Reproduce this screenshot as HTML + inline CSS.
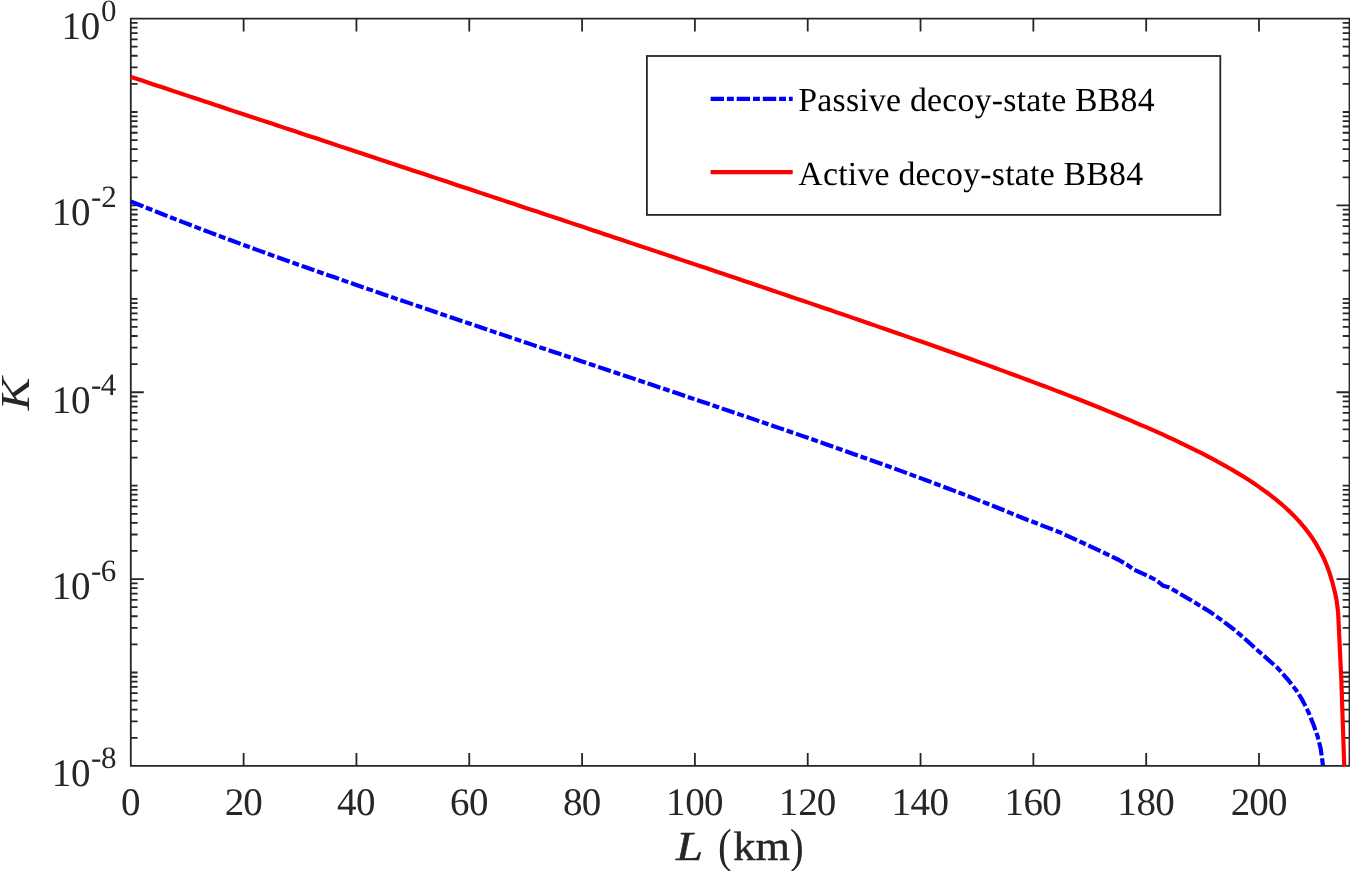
<!DOCTYPE html>
<html lang="en"><head><meta charset="utf-8"><title>Key rate versus distance</title>
<style>
html,body{margin:0;padding:0;background:#fff;}
body{width:1350px;height:871px;overflow:hidden;}
svg{display:block;}
text{font-family:"Liberation Serif","Times New Roman",Times,serif;text-rendering:geometricPrecision;}
.tk{font-size:39.0px;fill:#262626;}
.ex{font-size:31.0px;fill:#262626;}
.lg{font-size:33.75px;fill:#000;}
.lb{font-size:41.25px;fill:#262626;}
.bd{stroke:#262626;stroke-width:0.45px;stroke-linejoin:round;}
</style></head><body>
<svg width="1350" height="871" viewBox="0 0 1350 871">
<rect x="0" y="0" width="1350" height="871" fill="#fff"/>
<defs><clipPath id="cp"><rect x="130.10000000000002" y="17.8" width="1220.2" height="748.4"/></clipPath></defs>
<path d="M243.62 765.9v-13.0M243.62 18.6v13.0M356.44 765.9v-13.0M356.44 18.6v13.0M469.26 765.9v-13.0M469.26 18.6v13.0M582.08 765.9v-13.0M582.08 18.6v13.0M694.90 765.9v-13.0M694.90 18.6v13.0M807.72 765.9v-13.0M807.72 18.6v13.0M920.54 765.9v-13.0M920.54 18.6v13.0M1033.36 765.9v-13.0M1033.36 18.6v13.0M1146.18 765.9v-13.0M1146.18 18.6v13.0M1259.00 765.9v-13.0M1259.00 18.6v13.0M130.8 83.89h6.8M1349.5 83.89h-6.8M130.8 67.44h6.8M1349.5 67.44h-6.8M130.8 55.77h6.8M1349.5 55.77h-6.8M130.8 46.72h6.8M1349.5 46.72h-6.8M130.8 39.32h6.8M1349.5 39.32h-6.8M130.8 33.07h6.8M1349.5 33.07h-6.8M130.8 27.65h6.8M1349.5 27.65h-6.8M130.8 22.87h6.8M1349.5 22.87h-6.8M130.8 112.01h6.8M1349.5 112.01h-6.8M130.8 177.31h6.8M1349.5 177.31h-6.8M130.8 160.86h6.8M1349.5 160.86h-6.8M130.8 149.19h6.8M1349.5 149.19h-6.8M130.8 140.13h6.8M1349.5 140.13h-6.8M130.8 132.74h6.8M1349.5 132.74h-6.8M130.8 126.48h6.8M1349.5 126.48h-6.8M130.8 121.07h6.8M1349.5 121.07h-6.8M130.8 116.29h6.8M1349.5 116.29h-6.8M130.8 205.42h13.0M1349.5 205.42h-13.0M130.8 270.72h6.8M1349.5 270.72h-6.8M130.8 254.27h6.8M1349.5 254.27h-6.8M130.8 242.60h6.8M1349.5 242.60h-6.8M130.8 233.54h6.8M1349.5 233.54h-6.8M130.8 226.15h6.8M1349.5 226.15h-6.8M130.8 219.89h6.8M1349.5 219.89h-6.8M130.8 214.48h6.8M1349.5 214.48h-6.8M130.8 209.70h6.8M1349.5 209.70h-6.8M130.8 298.84h6.8M1349.5 298.84h-6.8M130.8 364.13h6.8M1349.5 364.13h-6.8M130.8 347.68h6.8M1349.5 347.68h-6.8M130.8 336.01h6.8M1349.5 336.01h-6.8M130.8 326.96h6.8M1349.5 326.96h-6.8M130.8 319.56h6.8M1349.5 319.56h-6.8M130.8 313.31h6.8M1349.5 313.31h-6.8M130.8 307.89h6.8M1349.5 307.89h-6.8M130.8 303.11h6.8M1349.5 303.11h-6.8M130.8 392.25h13.0M1349.5 392.25h-13.0M130.8 457.54h6.8M1349.5 457.54h-6.8M130.8 441.09h6.8M1349.5 441.09h-6.8M130.8 429.42h6.8M1349.5 429.42h-6.8M130.8 420.37h6.8M1349.5 420.37h-6.8M130.8 412.97h6.8M1349.5 412.97h-6.8M130.8 406.72h6.8M1349.5 406.72h-6.8M130.8 401.30h6.8M1349.5 401.30h-6.8M130.8 396.52h6.8M1349.5 396.52h-6.8M130.8 485.66h6.8M1349.5 485.66h-6.8M130.8 550.96h6.8M1349.5 550.96h-6.8M130.8 534.51h6.8M1349.5 534.51h-6.8M130.8 522.84h6.8M1349.5 522.84h-6.8M130.8 513.78h6.8M1349.5 513.78h-6.8M130.8 506.39h6.8M1349.5 506.39h-6.8M130.8 500.13h6.8M1349.5 500.13h-6.8M130.8 494.72h6.8M1349.5 494.72h-6.8M130.8 489.94h6.8M1349.5 489.94h-6.8M130.8 579.07h13.0M1349.5 579.07h-13.0M130.8 644.37h6.8M1349.5 644.37h-6.8M130.8 627.92h6.8M1349.5 627.92h-6.8M130.8 616.25h6.8M1349.5 616.25h-6.8M130.8 607.19h6.8M1349.5 607.19h-6.8M130.8 599.80h6.8M1349.5 599.80h-6.8M130.8 593.54h6.8M1349.5 593.54h-6.8M130.8 588.13h6.8M1349.5 588.13h-6.8M130.8 583.35h6.8M1349.5 583.35h-6.8M130.8 672.49h6.8M1349.5 672.49h-6.8M130.8 737.78h6.8M1349.5 737.78h-6.8M130.8 721.33h6.8M1349.5 721.33h-6.8M130.8 709.66h6.8M1349.5 709.66h-6.8M130.8 700.61h6.8M1349.5 700.61h-6.8M130.8 693.21h6.8M1349.5 693.21h-6.8M130.8 686.96h6.8M1349.5 686.96h-6.8M130.8 681.54h6.8M1349.5 681.54h-6.8M130.8 676.76h6.8M1349.5 676.76h-6.8" stroke="#262626" stroke-width="1.8" fill="none"/>
<path d="M130.8 18.6H1349.5V765.9H130.8Z" stroke="#262626" stroke-width="1.8" fill="none" stroke-linejoin="miter"/>
<g clip-path="url(#cp)" fill="none" stroke-linejoin="round">
<polyline points="130.8,201.3 136.4,203.7 142.1,206.0 147.7,208.3 153.4,210.5 159.0,212.8 164.6,215.0 170.3,217.2 175.9,219.4 181.6,221.6 187.2,223.8 192.9,226.0 198.5,228.1 204.1,230.3 209.8,232.4 215.4,234.5 221.1,236.6 226.7,238.7 232.3,240.8 238.0,242.9 243.6,245.0 249.3,247.0 254.9,249.1 260.5,251.1 266.2,253.2 271.8,255.2 277.5,257.2 283.1,259.2 288.7,261.3 294.4,263.3 300.0,265.3 305.7,267.3 311.3,269.2 317.0,271.2 322.6,273.2 328.2,275.2 333.9,277.1 339.5,279.1 345.2,281.1 350.8,283.0 356.4,285.0 362.1,286.9 367.7,288.9 373.4,290.8 379.0,292.8 384.6,294.7 390.3,296.6 395.9,298.6 401.6,300.5 407.2,302.4 412.9,304.4 418.5,306.3 424.1,308.2 429.8,310.1 435.4,312.0 441.1,313.9 446.7,315.9 452.3,317.8 458.0,319.7 463.6,321.6 469.3,323.5 474.9,325.4 480.5,327.3 486.2,329.2 491.8,331.1 497.5,333.0 503.1,334.9 508.7,336.8 514.4,338.7 520.0,340.6 525.7,342.5 531.3,344.4 537.0,346.3 542.6,348.2 548.2,350.1 553.9,352.0 559.5,353.8 565.2,355.7 570.8,357.6 576.4,359.5 582.1,361.4 587.7,363.3 593.4,365.2 599.0,367.1 604.6,369.0 610.3,370.9 615.9,372.8 621.6,374.7 627.2,376.5 632.8,378.4 638.5,380.3 644.1,382.2 649.8,384.1 655.4,386.0 661.1,387.9 666.7,389.8 672.3,391.7 678.0,393.6 683.6,395.5 689.3,397.4 694.9,399.3 700.5,401.2 706.2,403.1 711.8,405.0 717.5,406.9 723.1,408.9 728.7,410.8 734.4,412.7 740.0,414.6 745.7,416.5 751.3,418.4 757.0,420.4 762.6,422.3 768.2,424.2 773.9,426.2 779.5,428.1 785.2,430.0 790.8,432.0 796.4,433.9 802.1,435.9 807.7,437.8 813.4,439.8 819.0,441.8 824.6,443.7 830.3,445.7 835.9,447.7 841.6,449.7 847.2,451.7 852.8,453.7 858.5,455.7 864.1,457.7 869.8,459.7 875.4,461.7 881.1,463.7 886.7,465.8 892.3,467.8 898.0,469.9 903.6,471.9 909.3,474.0 914.9,476.1 920.5,478.1 926.2,480.2 931.8,482.3 937.5,484.5 943.1,486.6 948.7,488.7 954.4,490.9 960.0,493.0 965.7,495.2 971.3,497.4 977.0,499.6 982.6,501.8 988.2,504.0 993.9,506.2 999.5,508.5 1005.2,510.8 1010.8,513.1 1016.4,515.4 1022.1,517.7 1027.7,520.0 1031.5,521.3 1045.0,526.6 1059.6,532.2 1089.3,545.9 1118.9,560.0 1127.8,565.2 1133.7,569.5 1145.6,574.8 1155.9,580.0 1163.3,585.8 1169.3,587.4 1178.1,592.6 1193.0,601.4 1200.0,605.7 1211.1,612.6 1222.4,620.7 1233.4,629.0 1244.5,638.4 1255.7,648.7 1266.8,658.4 1278.0,668.4 1288.2,680.0 1296.4,690.5 1302.7,700.7 1308.2,711.6 1313.1,723.6 1317.4,735.6 1320.7,748.7 1323.3,768.0" stroke="#0000ff" stroke-width="4.17" stroke-dasharray="13.4 2.9 6.9 2.9"/>
<polyline points="130.8,76.9 136.4,78.8 142.1,80.6 147.7,82.5 153.4,84.4 159.0,86.3 164.6,88.1 170.3,90.0 175.9,91.9 181.6,93.7 187.2,95.6 192.9,97.5 198.5,99.3 204.1,101.2 209.8,103.1 215.4,104.9 221.1,106.8 226.7,108.7 232.3,110.6 238.0,112.4 243.6,114.3 249.3,116.2 254.9,118.0 260.5,119.9 266.2,121.8 271.8,123.6 277.5,125.5 283.1,127.4 288.7,129.2 294.4,131.1 300.0,133.0 305.7,134.9 311.3,136.7 317.0,138.6 322.6,140.5 328.2,142.3 333.9,144.2 339.5,146.1 345.2,147.9 350.8,149.8 356.4,151.7 362.1,153.6 367.7,155.4 373.4,157.3 379.0,159.2 384.6,161.0 390.3,162.9 395.9,164.8 401.6,166.7 407.2,168.5 412.9,170.4 418.5,172.3 424.1,174.1 429.8,176.0 435.4,177.9 441.1,179.8 446.7,181.6 452.3,183.5 458.0,185.4 463.6,187.3 469.3,189.1 474.9,191.0 480.5,192.9 486.2,194.7 491.8,196.6 497.5,198.5 503.1,200.4 508.7,202.2 514.4,204.1 520.0,206.0 525.7,207.9 531.3,209.7 537.0,211.6 542.6,213.5 548.2,215.4 553.9,217.3 559.5,219.1 565.2,221.0 570.8,222.9 576.4,224.8 582.1,226.6 587.7,228.5 593.4,230.4 599.0,232.3 604.6,234.2 610.3,236.1 615.9,237.9 621.6,239.8 627.2,241.7 632.8,243.6 638.5,245.5 644.1,247.4 649.8,249.2 655.4,251.1 661.1,253.0 666.7,254.9 672.3,256.8 678.0,258.7 683.6,260.6 689.3,262.5 694.9,264.4 700.5,266.2 706.2,268.1 711.8,270.0 717.5,271.9 723.1,273.8 728.7,275.7 734.4,277.6 740.0,279.5 745.7,281.4 751.3,283.3 757.0,285.2 762.6,287.1 768.2,289.0 773.9,291.0 779.5,292.9 785.2,294.8 790.8,296.7 796.4,298.6 802.1,300.5 807.7,302.4 813.4,304.4 819.0,306.3 824.6,308.2 830.3,310.1 835.9,312.1 841.6,314.0 847.2,315.9 852.8,317.9 858.5,319.8 864.1,321.7 869.8,323.7 875.4,325.6 881.1,327.6 886.7,329.5 892.3,331.5 898.0,333.5 903.6,335.4 909.3,337.4 914.9,339.4 920.5,341.3 926.2,343.3 931.8,345.3 937.5,347.3 943.1,349.3 948.7,351.3 954.4,353.3 960.0,355.3 965.7,357.3 971.3,359.3 977.0,361.4 982.6,363.4 988.2,365.4 993.9,367.5 999.5,369.6 1005.2,371.6 1010.8,373.7 1016.4,375.8 1022.1,377.9 1027.7,380.0 1033.4,382.1 1039.0,384.2 1044.6,386.3 1050.3,388.4 1055.9,390.6 1061.6,392.8 1067.2,394.9 1072.8,397.1 1078.5,399.3 1084.1,401.5 1089.8,403.8 1095.4,406.0 1101.1,408.3 1106.7,410.6 1112.3,412.9 1118.0,415.2 1123.6,417.6 1129.3,419.9 1134.9,422.3 1140.5,424.8 1146.2,427.2 1151.8,429.7 1157.5,432.2 1163.1,434.7 1168.7,437.3 1174.4,439.9 1180.0,442.6 1185.7,445.3 1191.3,448.1 1196.9,450.9 1202.6,453.7 1208.2,456.6 1213.9,459.6 1219.5,462.7 1225.2,465.8 1230.8,469.0 1236.4,472.4 1242.1,475.8 1247.7,479.3 1253.4,483.0 1259.0,486.9 1260.4,487.9 1261.8,488.8 1263.2,489.9 1264.6,490.9 1266.1,491.9 1267.5,493.0 1268.9,494.0 1270.3,495.1 1271.7,496.2 1273.1,497.3 1274.5,498.4 1275.9,499.5 1277.3,500.7 1278.7,501.9 1280.2,503.0 1281.6,504.2 1283.0,505.5 1284.4,506.7 1285.8,508.0 1287.2,509.3 1288.6,510.6 1290.0,511.9 1291.4,513.3 1292.8,514.7 1294.3,516.1 1295.7,517.6 1297.1,519.1 1298.5,520.6 1299.9,522.2 1301.3,523.8 1302.7,525.5 1304.1,527.2 1305.5,528.9 1306.9,530.7 1308.4,532.6 1309.8,534.5 1311.2,536.5 1312.6,538.5 1314.0,540.7 1315.4,542.9 1316.8,545.2 1318.2,547.7 1319.6,550.2 1321.1,552.9 1322.5,555.7 1323.9,558.7 1325.3,561.9 1326.7,565.3 1328.1,569.0 1329.5,572.9 1330.9,577.3 1332.3,582.0 1333.7,587.4 1335.2,593.4 1336.6,600.4 1338.1,612.2 1341.3,679.0 1344.3,768.0" stroke="#ff0000" stroke-width="4.17"/>
</g>
<text class="tk" x="121.05" y="814.7">0</text>
<text class="tk" x="224.80 243.25" y="814.7">20</text>
<text class="tk" x="336.94 356.06" y="814.7">40</text>
<text class="tk" x="449.92 468.88" y="814.7">60</text>
<text class="tk" x="562.97 581.70" y="814.7">80</text>
<text class="tk" x="665.95 685.15 703.90" y="814.7">100</text>
<text class="tk" x="778.77 798.28 816.72" y="814.7">120</text>
<text class="tk" x="891.59 910.41 929.54" y="814.7">140</text>
<text class="tk" x="1004.41 1023.39 1042.36" y="814.7">160</text>
<text class="tk" x="1117.23 1136.45 1155.18" y="814.7">180</text>
<text class="tk" x="1230.81 1249.25 1268.00" y="814.7">200</text>
<text class="tk" x="61.47 80.67" y="39.2">10</text>
<text class="ex" x="101.10" y="21.200000000000003">0</text>
<text class="tk" x="51.81 71.02" y="225.0">10</text>
<text class="ex" x="90.98 101.29" y="207.0">-2</text>
<text class="tk" x="51.81 71.02" y="413.2">10</text>
<text class="ex" x="90.98 100.74" y="395.2">-4</text>
<text class="tk" x="51.81 71.02" y="599.3">10</text>
<text class="ex" x="90.98 100.87" y="581.3">-6</text>
<text class="tk" x="51.81 71.02" y="786.3">10</text>
<text class="ex" x="90.98 101.05" y="768.3">-8</text>
<text class="lb bd" transform="translate(676.0 860.2) scale(1.18 1.0)" font-size="43.7" font-style="italic">L</text>
<text class="lb" transform="translate(718.0 862.4000000000001) scale(1.0 1.16)" font-size="42">(</text>
<text class="lb bd" transform="translate(733.3 860.2) scale(1.075 1.0)" font-size="42">km</text>
<text class="lb" transform="translate(789.9 862.4000000000001) scale(1.0 1.16)" font-size="42">)</text>
<text class="lb" transform="translate(29.4 410.4) rotate(-90) scale(1.2 1.0)" font-size="45.2" font-style="italic">K</text>
<rect x="646.9" y="56" width="573.4" height="158.9" fill="#fff" stroke="#262626" stroke-width="1.8"/>
<path d="M710.6 98.85H792.7" stroke="#0000ff" stroke-width="4.17" stroke-dasharray="13.4 2.9 6.9 2.9" fill="none"/>
<path d="M710.6 172.2H792.7" stroke="#ff0000" stroke-width="4.17" fill="none"/>
<text class="lg" x="798.3" y="111.0" letter-spacing="0.25">Passive decoy-state BB84</text>
<text class="lg" x="798.3" y="184.7" letter-spacing="0.25">Active decoy-state BB84</text>
</svg>
</body></html>
